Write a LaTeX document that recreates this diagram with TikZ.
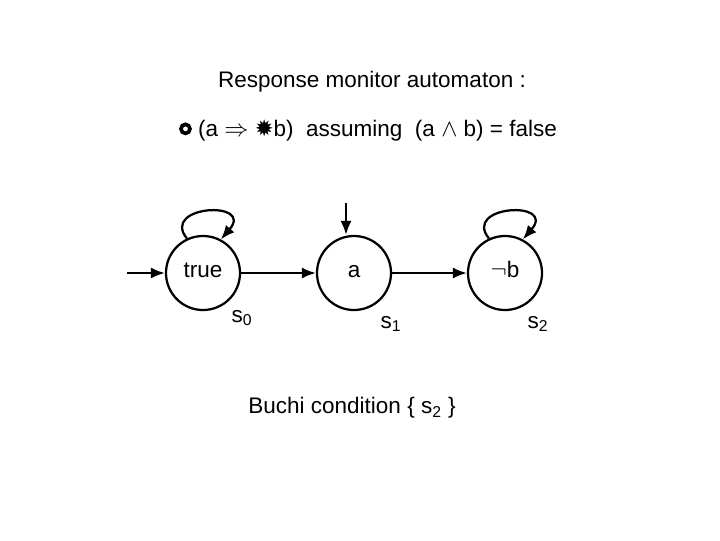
\documentclass[tikz,border=0pt]{standalone}
\usepackage{fontspec}
\setmainfont{Liberation Sans}
\newfontfamily\dingfont{DejaVu Sans}
\usetikzlibrary{positioning,arrows.meta}

\begin{document}
\begin{tikzpicture}[
        x=0.025cm, y=-0.025cm,
        state/.style={
            circle,
            draw,
            line width=1.6pt,
            minimum size=1.85cm,
            inner sep=0pt,
            text height=1.6ex,
            text depth=0.3ex,
            font=\fontsize{16}{18}\selectfont
        },
        arrow/.style={
            -{Latex[length=3.5mm,width=2.8mm]},
            line width=1.6pt
        },
        label/.style={
            font=\fontsize{16}{18}\selectfont,
            inner sep=0pt
        }
    ]
        \useasboundingbox (0,0) rectangle (720,540);

        % Title and formula
        \node[label] (title) at (372,82) {Response monitor automaton :};
        \node[label] (formula) at (368,130) {\tikz[baseline=-0.6ex]\draw[line width=2.6pt] (0,0) circle (3.2pt);\ (a $\Rightarrow$ {\dingfont\char"2739}b)\ \ assuming\ \ (a $\wedge$ b) = false};

        % States
        \node[state] (s0) at (203,273) {true};
        \node[state] (s1) at (354,273) {a};
        \node[state] (s2) at (505,273) {$\neg$b};

        % State names
        \node[label] (n0) at (242,318) {s\textsubscript{0}};
        \node[label] (n1) at (391,324) {s\textsubscript{1}};
        \node[label] (n2) at (538,324) {s\textsubscript{2}};

        % Entry points
        \coordinate (in0) at (127,273);
        \coordinate (in1) at (346,203);

        \draw[arrow] (in0) -- (s0);
        \draw[arrow] (in1) -- (s1.north -| in1);
        \draw[arrow] (s0) -- (s1);
        \draw[arrow] (s1) -- (s2);
        \draw[arrow] (s0.115) .. controls (160,205) and (255,200) .. (s0.62);
        \draw[arrow] (s2.115) .. controls (462,205) and (557,200) .. (s2.62);

        % Acceptance
        \node[label] (buchi) at (352,408) {Buchi condition \{ s\textsubscript{2} \}};
    \end{tikzpicture}
\end{document}
